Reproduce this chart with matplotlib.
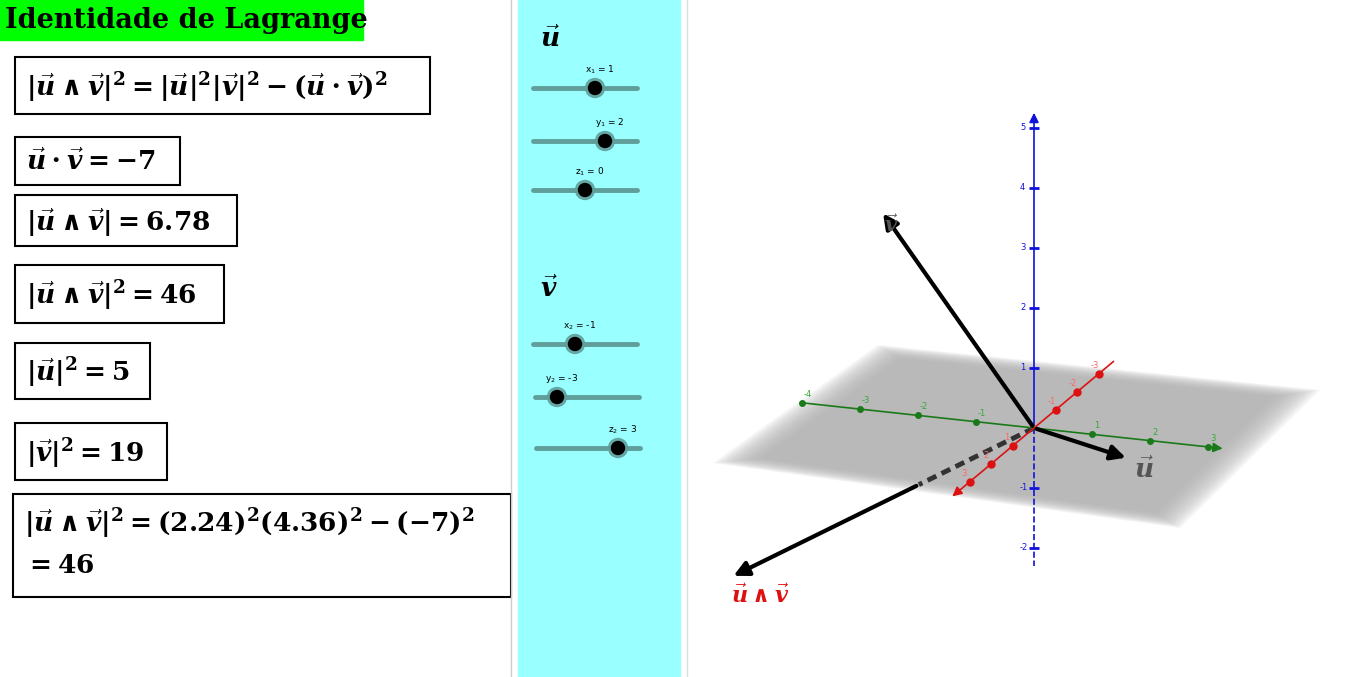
import numpy as np
import matplotlib.pyplot as plt
from matplotlib.patches import Rectangle, Polygon, Circle

plt.rcParams['mathtext.fontset'] = 'custom'
plt.rcParams['mathtext.rm'] = 'DejaVu Serif:bold'
plt.rcParams['mathtext.it'] = 'DejaVu Serif:bold:italic'
plt.rcParams['mathtext.bf'] = 'DejaVu Serif:bold'
plt.rcParams['mathtext.sf'] = 'DejaVu Sans'

u = [1, 2, 0]
v = [-1, -3, 3]
slider_names = ['x_1', 'y_1', 'z_1', 'x_2', 'y_2', 'z_2']
slider_vals = [1, 2, 0, -1, -3, 3]
green_ticks = [-4, -3, -2, -1, 1, 2, 3]
red_ticks = [-3, -2, -1, 1, 2, 3]
blue_ticks = [-2, -1, 1, 2, 3, 4, 5]

W, H = 1347, 677
fig = plt.figure(figsize=(W/100, H/100), dpi=100)
ax = fig.add_axes([0, 0, 1, 1])
ax.set_xlim(0, W); ax.set_ylim(H, 0); ax.axis('off')

# ---------- left panel ----------
ax.add_patch(Rectangle((0, 0), 363, 40, color='#00ff00'))
ax.text(5, 20, 'Identidade de Lagrange', fontsize=19.5, fontweight='bold',
        family='DejaVu Serif', va='center')

uv = np.cross(u, v)
dot = int(np.dot(u, v))
nu2 = int(np.dot(u, u)); nv2 = int(np.dot(v, v)); nc2 = int(np.dot(uv, uv))
FS = 19
boxes = [
    ((15, 57, 415, 57), r'$|\vec{u}\wedge\vec{v}|^2=|\vec{u}|^2|\vec{v}|^2-(\vec{u}\cdot\vec{v})^2$'),
    ((15, 137, 165, 48), r'$\vec{u}\cdot\vec{v}=%d$' % dot),
    ((15, 195, 222, 51), r'$|\vec{u}\wedge\vec{v}|=%.2f$' % np.sqrt(nc2)),
    ((15, 265, 209, 58), r'$|\vec{u}\wedge\vec{v}|^2=%d$' % nc2),
    ((15, 343, 135, 56), r'$|\vec{u}|^2=%d$' % nu2),
    ((15, 423, 152, 57), r'$|\vec{v}|^2=%d$' % nv2),
]
for (x, y, w, h), t in boxes:
    ax.add_patch(Rectangle((x, y), w, h, fill=False, ec='black', lw=1.5))
    ax.text(x + 11, y + h/2 + 2, t, fontsize=FS, va='center')
ax.add_patch(Rectangle((13, 494), 498, 103, fill=False, ec='black', lw=1.5))
ax.text(24, 524, r'$|\vec{u}\wedge\vec{v}|^2=(%.2f)^2(%.2f)^2-(%d)^2$'
        % (np.sqrt(nu2), np.sqrt(nv2), dot), fontsize=FS, va='center')
ax.text(24, 566, r'$=%d$' % nc2, fontsize=FS, va='center')

# ---------- sliders ----------
ax.plot([511, 511], [0, H], color='#cccccc', lw=1)
ax.add_patch(Rectangle((518, 0), 162, H, color='#99ffff'))
ax.plot([687, 687], [0, H], color='#dddddd', lw=1)
ax.text(540, 40, r'$\vec{u}$', fontsize=FS, va='center')
ax.text(540, 290, r'$\vec{v}$', fontsize=FS, va='center')
sl_y = [88, 141, 190, 344, 397, 448]
sl_x0 = [533, 533, 533, 533, 535, 536]
sl_len = 104
for name, val, y, x0 in zip(slider_names, slider_vals, sl_y, sl_x0):
    ax.plot([x0, x0 + sl_len], [y, y], color='#5f9e9a', lw=3.5, solid_capstyle='round')
    kx = x0 + 52 + 10 * val
    ax.add_patch(Circle((kx, y), 9.5, color='#5f9e9a', alpha=0.85, zorder=3))
    ax.add_patch(Circle((kx, y), 6.5, color='black', zorder=4))
    ax.text(kx + 5, y - 12, r'$\mathsf{%s}$ = %d' % (name, val), fontsize=6.5,
            ha='center', va='bottom', family='DejaVu Sans')

# ---------- 3D view ----------
O = np.array([1034.0, 428.0])
ex = np.array([-21.5, 18.0])   # red
ey = np.array([58.0, 6.3])     # green
ez = np.array([0.0, -60.0])    # blue
def P(p):
    return O + p[0]*ex + p[1]*ey + p[2]*ez

plane = np.array([(713, 463), (878, 345), (1320, 390), (1180, 528)], float)
c = plane.mean(axis=0)
for k in range(14):
    poly = c + (plane - c) * (1 - 0.012*k)
    ax.add_patch(Polygon(poly, color='#b0b0b0', alpha=0.12, lw=0))

gc, rc, bc = '#1a7a1a', '#dd1111', '#1111dd'
ax.plot([O[0], O[0]], [O[1], 566], color=bc, lw=1.2, ls='--')
ax.annotate('', xy=(O[0], 110), xytext=tuple(O),
            arrowprops=dict(arrowstyle='-|>', color=bc, lw=1.2, mutation_scale=14))
for t in blue_ticks:
    p = P([0, 0, t])
    ax.plot(p[0], p[1], marker='_', color=bc, ms=7, mew=2)
    ax.text(p[0] - 14, p[1], str(t), fontsize=6, color=bc, va='center')
a0, a1 = P([0, -4.05, 0]), P([0, 3.3, 0])
ax.annotate('', xy=tuple(a1), xytext=tuple(a0),
            arrowprops=dict(arrowstyle='-|>', color=gc, lw=1.2, mutation_scale=14))
for t in green_ticks:
    p = P([0, t, 0])
    ax.plot(*p, 'o', color=gc, ms=4)
    ax.text(p[0] + 2, p[1] - 6, str(t), fontsize=6, color='#33aa33')
r0, r1 = P([-3.8, 0, 0]), P([3.9, 0, 0])
ax.annotate('', xy=tuple(r1), xytext=tuple(r0),
            arrowprops=dict(arrowstyle='-|>', color=rc, lw=1.2, mutation_scale=14))
for t in red_ticks:
    p = P([t, 0, 0])
    ax.plot(*p, 'o', color=rc, ms=5)
    ax.text(p[0] - 8, p[1] - 6, str(t), fontsize=6, color='#ff6666')

pu, pv, pc = P(u), P(v), P(uv)
for tip in (pu, pv):
    ax.annotate('', xy=tuple(tip), xytext=tuple(O),
                arrowprops=dict(arrowstyle='-|>', color='black', lw=3, mutation_scale=22))
mid = O + (pc - O) * 0.38
ax.plot([O[0], mid[0]], [O[1], mid[1]], color='#333333', lw=3.5, ls=(0, (2, 1.2)))
ax.annotate('', xy=tuple(pc), xytext=tuple(mid),
            arrowprops=dict(arrowstyle='-|>', color='black', lw=3, mutation_scale=22))
ax.text(pu[0] + 5, pu[1] + 12, r'$\vec{u}$', fontsize=19, color='#555555', va='center')
ax.text(pv[0] + 2, pv[1] + 14, r'$\vec{v}$', fontsize=15, color='#555555', va='center')
ax.text(pc[0], pc[1] + 18, r'$\vec{u}\wedge\vec{v}$', fontsize=16, color=rc, va='center')

fig.savefig('out.png', dpi=100)
